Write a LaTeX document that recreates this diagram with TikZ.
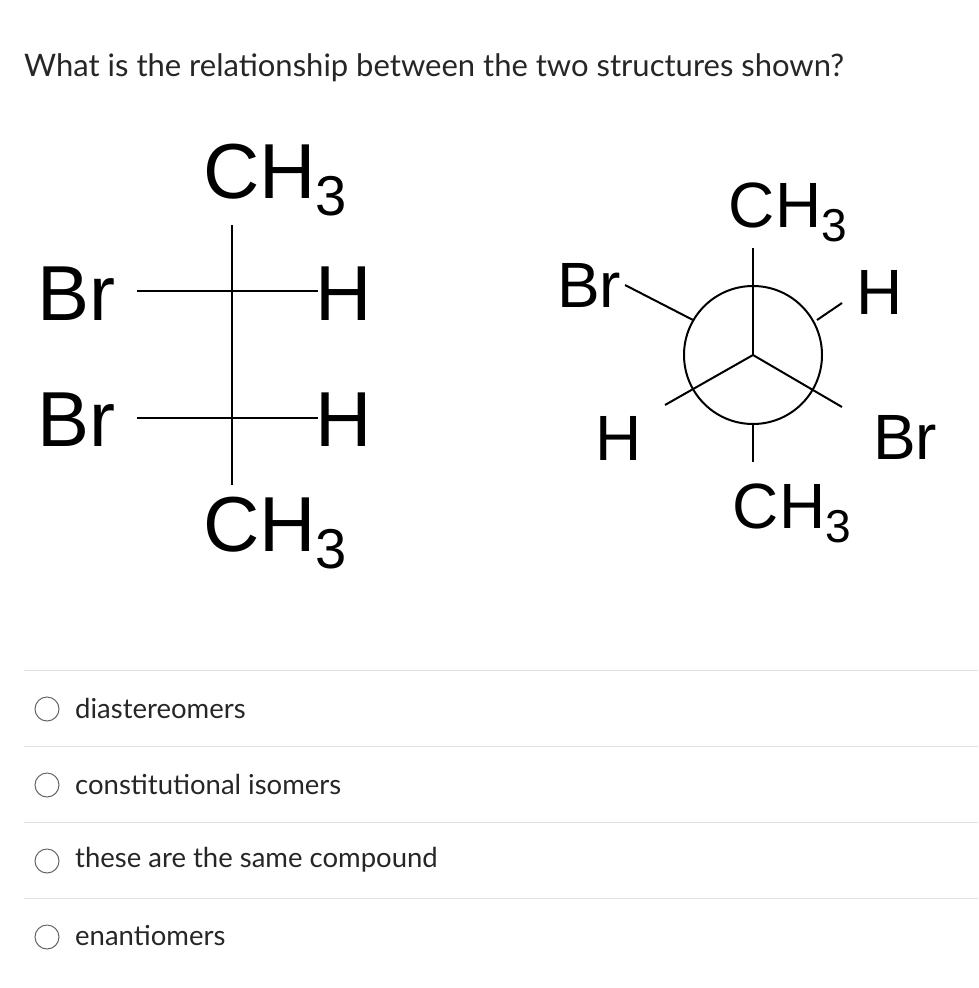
\documentclass[tikz,border=0pt]{standalone}
\usepackage{fontspec}
\setmainfont{Lato}
\newfontfamily\chem{Liberation Sans}
\newcommand{\subthree}{\raisebox{-0.22em}{\scalebox{0.72}{3}}}
\begin{document}
\begin{tikzpicture}[x=1pt,y=-1pt,
  bond/.style={line width=2pt,black},
  big/.style={font=\chem\fontsize{78}{80}\selectfont,inner sep=0pt},
  mid/.style={font=\chem\fontsize{64}{66}\selectfont,inner sep=0pt},
  opt/.style={font=\fontsize{27.5}{30}\selectfont,anchor=west,inner sep=0pt,text=black!85},
  radio/.style={draw=black!60,line width=1pt,circle,minimum size=24pt,inner sep=0pt},
  sep/.style={draw=black!12,line width=1pt}]
\useasboundingbox (0,0) rectangle (978,988);
\node[anchor=west,font=\fontsize{31}{34}\selectfont,inner sep=0pt,text=black!85] (q) at (24,68) {What is the relationship between the two structures shown?};
% Fischer
\coordinate (ft) at (232,225); \coordinate (fb) at (232,485);
\coordinate (f1l) at (137,291); \coordinate (f1r) at (318,291);
\coordinate (f2l) at (137,418); \coordinate (f2r) at (318,418);
\draw[bond] (ft) -- (fb); \draw[bond] (f1l) -- (f1r); \draw[bond] (f2l) -- (f2r);
\node[big] (fc1) at (275,180) {CH\subthree};
\node[big] (fh1) at (344,294) {H};
\node[big] (fbr1) at (76,294) {Br};
\node[big] (fh2) at (344,420) {H};
\node[big] (fbr2) at (76,420) {Br};
\node[big] (fc2) at (275,533) {CH\subthree};
% Newman
\coordinate (c) at (753,355);
\draw[bond] (c) circle (69);
\coordinate (nt) at (753,248); \coordinate (nl) at (665,405); \coordinate (nr) at (842,407);
\draw[bond] (c) -- (nt); \draw[bond] (c) -- (nl); \draw[bond] (c) -- (nr);
\coordinate (b1a) at (693,320); \coordinate (b1b) at (625,285);
\coordinate (b2a) at (817,320); \coordinate (b2b) at (842,303);
\coordinate (b3a) at (753,423); \coordinate (b3b) at (753,462);
\draw[bond] (b1a) -- (b1b); \draw[bond] (b2a) -- (b2b); \draw[bond] (b3a) -- (b3b);
\node[mid] (nc1) at (788,212) {CH\subthree};
\node[mid] (nh1) at (880,292) {H};
\node[mid] (nbr1) at (589,285) {Br};
\node[mid] (nh2) at (619,438) {H};
\node[mid] (nbr2) at (905,437) {Br};
\node[mid] (nc2) at (792,513) {CH\subthree};
% options
\foreach \y in {670,746,822,898} \draw[sep] (24,\y) -- (978,\y);
\node[radio] (r1) at (47,709) {}; \node[opt] (o1) at (75,708) {diastereomers};
\node[radio] (r2) at (47,785) {}; \node[opt] (o2) at (75,784) {constitutional isomers};
\node[radio] (r3) at (47,861) {}; \node[opt] (o3) at (75,860) {these are the same compound};
\node[radio] (r4) at (47,937) {}; \node[opt] (o4) at (75,936) {enantiomers};
\end{tikzpicture}
\end{document}
